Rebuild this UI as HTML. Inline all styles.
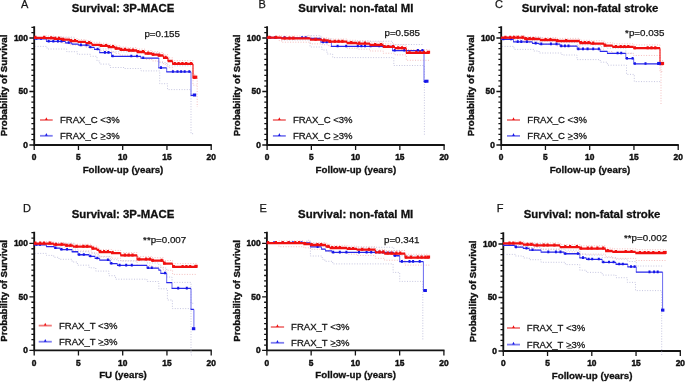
<!DOCTYPE html>
<html><head><meta charset="utf-8"><style>
html,body{margin:0;padding:0;background:#fff;}
svg{display:block;font-family:"Liberation Sans", sans-serif;will-change:transform;}
</style></head><body>
<svg width="685" height="382" viewBox="0 0 685 382">
<rect width="685" height="382" fill="#fff"/>
<path d="M29.4 145H34.2M31.4 139.65H34.2M31.4 134.3H34.2M31.4 128.95H34.2M31.4 123.6H34.2M31.4 118.25H34.2M31.4 112.9H34.2M31.4 107.55H34.2M31.4 102.2H34.2M31.4 96.85H34.2M29.4 91.5H34.2M31.4 86.15H34.2M31.4 80.8H34.2M31.4 75.45H34.2M31.4 70.1H34.2M31.4 64.75H34.2M31.4 59.4H34.2M31.4 54.05H34.2M31.4 48.7H34.2M31.4 43.35H34.2M29.4 38H34.2M31.4 32.65H34.2M31.4 27.3H34.2" stroke="#141414" stroke-width="1.3" fill="none"/>
<path d="M34.2 145V150M78.45 145V150M122.7 145V150M166.95 145V150M211.2 145V150" stroke="#141414" stroke-width="1.3" fill="none"/>
<path d="M34.2 26.3V145.9M33.4 145H211.8" stroke="#141414" stroke-width="1.85" fill="none"/>
<text x="27.9" y="147.95" font-size="8.4" font-weight="bold" text-anchor="end" fill="#111" stroke="#111" stroke-width="0.45" >0</text>
<text x="27.9" y="94.45" font-size="8.4" font-weight="bold" text-anchor="end" fill="#111" stroke="#111" stroke-width="0.45" >50</text>
<text x="27.9" y="40.95" font-size="8.4" font-weight="bold" text-anchor="end" fill="#111" stroke="#111" stroke-width="0.45" >100</text>
<text x="34.2" y="160.1" font-size="8.4" font-weight="bold" text-anchor="middle" fill="#111" stroke="#111" stroke-width="0.45" >0</text>
<text x="78.45" y="160.1" font-size="8.4" font-weight="bold" text-anchor="middle" fill="#111" stroke="#111" stroke-width="0.45" >5</text>
<text x="122.7" y="160.1" font-size="8.4" font-weight="bold" text-anchor="middle" fill="#111" stroke="#111" stroke-width="0.45" >10</text>
<text x="166.95" y="160.1" font-size="8.4" font-weight="bold" text-anchor="middle" fill="#111" stroke="#111" stroke-width="0.45" >15</text>
<text x="211.2" y="160.1" font-size="8.4" font-weight="bold" text-anchor="middle" fill="#111" stroke="#111" stroke-width="0.45" >20</text>
<path d="M35 46.4V46.4H47V49H66.8V51.7H77.4V54.3H90.5V56.3H97V60.9H99.7V64.1H110V67.5H124V68.5H141V70.9H159.7V83.7H167.5V89.6H191V133.7H194" stroke="#c0c0dc" stroke-width="0.9" stroke-dasharray="1 1.6" fill="none"/>
<path d="M46.2 40.3V40.65H46V41.29H54V42.13H62V43.27H70V44.91H78V45.95H86V47.33H92V49.27H100V50.61H108V52.02H115V53.57H120V55.11H128V56.08H137V57.82H145V59.53H152V60.91H158V61.88H163.4V64.31H168V67.65H172.6V71.16H193V85.2H196.5" stroke="#f2b8b8" stroke-width="0.9" stroke-dasharray="1 1.6" fill="none"/>
<path d="M46.2 35.8V35.71H46V36.04H54V36.58H62V37.41H70V38.75H78V39.49H86V40.64H92V42.27H100V43.31H108V44.45H115V45.81H120V47.05H128V47.68H137V49.11H145V50.56H152V51.71H158V52.47H163.4V54.73H168V57.89H172.6V60.63H193V74.4H196.5" stroke="#f2b8b8" stroke-width="0.9" stroke-dasharray="1 1.6" fill="none"/>
<path d="M74.2 37.5V37.13H46.5V39.16H65.5V40.37H72V41.46H78.7V42.15H89.2V44.19H94.4V46.03H99.7V48.98H111.5V51.8H141V52.96H158.8V62.62H166.7V65.8H191" stroke="#c0c0dc" stroke-width="0.9" stroke-dasharray="1 1.6" fill="none"/>
<path d="M197.2 78V107" stroke="#f2b8b8" stroke-width="0.9" stroke-dasharray="1 1.6"/>
<path d="M46.5 38.85V41.45M65.5 41.45V42.85M72 42.85V44.15M78.7 44.15V45.15M89.2 45.15V47.35M94.4 47.35V49.35M99.7 49.35V52.65M111.5 52.65V56.35M141 56.35V58.05M158.8 58.05V67.95M166.7 67.95V71.85M191 71.85V95.45" stroke="#6a6af0" stroke-width="1.0" fill="none"/>
<path d="M33.8 38.85H46.5M46.1 41.45H65.5M65.1 42.85H72M71.6 44.15H78.7M78.3 45.15H89.2M88.8 47.35H94.4M94 49.35H99.7M99.3 52.65H111.5M111.1 56.35H141M140.6 58.05H158.8M158.4 67.95H166.7M166.3 71.85H191M190.6 95.45H195.4" stroke="#2828ea" stroke-width="1.3" fill="none"/>
<path d="M36.4 39.85V37.25M41 39.85V37.25M48.7 42.45V39.85M53.3 42.45V39.85M57.9 42.45V39.85M61.5 42.45V39.85M68.7 43.85V41.25M80.9 46.15V43.55M86.5 46.15V43.55M90.4 48.35V45.75M97.6 50.35V47.75M104.9 53.65V51.05M108.5 53.65V51.05M112.7 57.35V54.75M131.3 57.35V54.75M136.9 57.35V54.75M143.2 59.05V56.45M161 68.95V66.35M172.9 72.85V70.25M177.5 72.85V70.25M181.1 72.85V70.25M184.7 72.85V70.25M189.3 72.85V70.25" stroke="#1515e8" stroke-width="2.0" fill="none"/>
<path d="M46 37.8V38.2M54 38.2V38.8M62 38.8V39.7M70 39.7V41.1M78 41.1V41.9M86 41.9V43.1M92 43.1V44.8M100 44.8V45.9M108 45.9V47.1M115 47.1V48.5M120 48.5V49.8M128 49.8V50.5M137 50.5V52M145 52V53.5M152 53.5V54.7M158 54.7V55.5M163.4 55.5V57.8M168 57.8V61M172.6 61V63.9M193 63.9V77.7" stroke="#f01010" stroke-width="1.1" fill="none"/>
<path d="M33.8 37.8H46M45.6 38.2H54M53.6 38.8H62M61.6 39.7H70M69.6 41.1H78M77.6 41.9H86M85.6 43.1H92M91.6 44.8H100M99.6 45.9H108M107.6 47.1H115M114.6 48.5H120M119.6 49.8H128M127.6 50.5H137M136.6 52H145M144.6 53.5H152M151.6 54.7H158M157.6 55.5H163.4M163 57.8H168M167.6 61H172.6M172.2 63.9H193M192.6 77.7H196.5" stroke="#f01010" stroke-width="2.3" fill="none"/>
<path d="M35.4 38.8V35.8M44.2 38.8V35.8M51.2 39.2V36.2M55.2 39.8V36.8M59 39.8V36.8M63.2 40.7V37.7M71.2 42.1V39.1M75 42.1V39.1M89.2 44.1V41.1M101.2 46.9V43.9M106 46.9V43.9M109.2 48.1V45.1M113 48.1V45.1M116.2 49.5V46.5M121.2 50.8V47.8M125 50.8V47.8M129.2 51.5V48.5M133 51.5V48.5M138.2 53V50M143 53V50M148.2 54.5V51.5M153.2 55.7V52.7M159.2 56.5V53.5M165.6 58.8V55.8M174.8 64.9V61.9M178.6 64.9V61.9M182.4 64.9V61.9M186.2 64.9V61.9M191 64.9V61.9M194.2 78.7V75.7" stroke="#f01010" stroke-width="2.2" fill="none"/>
<rect x="193.9" y="75.6" width="3.4" height="3" fill="#f01010"/>
<rect x="192.8" y="93.5" width="3.4" height="3" fill="#1515e8"/>
<path d="M40 120H52.7" stroke="#f07a7a" stroke-width="1.8"/>
<path d="M45.05 120L46.35 117.2L47.65 120Z" fill="#f01010"/>
<path d="M40 135.8H52.7" stroke="#8080f0" stroke-width="1.8"/>
<path d="M45.05 135.8L46.35 133L47.65 135.8Z" fill="#1515e8"/>
<text x="60" y="123" font-size="9.55" font-weight="normal" text-anchor="start" fill="#151515" stroke="#151515" stroke-width="0.28" >FRAX_C &lt;3%</text>
<text x="60" y="138.8" font-size="9.55" font-weight="normal" text-anchor="start" fill="#151515" stroke="#151515" stroke-width="0.28" >FRAX_C &gt;3%</text>
<path d="M100.61 139.5h4.98" stroke="#555" stroke-width="0.9"/>
<text x="144.4" y="37" font-size="9.75" font-weight="normal" text-anchor="start" fill="#151515" stroke="#151515" stroke-width="0.25" >p=0.155</text>
<text x="123" y="12.3" font-size="11.4" font-weight="bold" text-anchor="middle" fill="#111" stroke="#111" stroke-width="0.3" >Survival: 3P-MACE</text>
<text x="123" y="173" font-size="9.75" font-weight="bold" text-anchor="middle" fill="#111" stroke="#111" stroke-width="0.3" >Follow-up (years)</text>
<text x="7.2" y="85.5" font-size="9.63" font-weight="bold" text-anchor="middle" fill="#111" stroke="#111" stroke-width="0.4" transform="rotate(-90 7.2 85.5)">Probability of Survival</text>
<text x="21" y="7.9" font-size="11" font-weight="normal" text-anchor="start" fill="#151515" stroke="#151515" stroke-width="0.25" >A</text>
<path d="M262.3 145H267.1M264.3 139.65H267.1M264.3 134.3H267.1M264.3 128.95H267.1M264.3 123.6H267.1M264.3 118.25H267.1M264.3 112.9H267.1M264.3 107.55H267.1M264.3 102.2H267.1M264.3 96.85H267.1M262.3 91.5H267.1M264.3 86.15H267.1M264.3 80.8H267.1M264.3 75.45H267.1M264.3 70.1H267.1M264.3 64.75H267.1M264.3 59.4H267.1M264.3 54.05H267.1M264.3 48.7H267.1M264.3 43.35H267.1M262.3 38H267.1M264.3 32.65H267.1M264.3 27.3H267.1" stroke="#141414" stroke-width="1.3" fill="none"/>
<path d="M267.1 145V150M311.35 145V150M355.6 145V150M399.85 145V150M444.1 145V150" stroke="#141414" stroke-width="1.3" fill="none"/>
<path d="M267.1 26.3V145.9M266.3 145H444.7" stroke="#141414" stroke-width="1.85" fill="none"/>
<text x="260.8" y="147.95" font-size="8.4" font-weight="bold" text-anchor="end" fill="#111" stroke="#111" stroke-width="0.45" >0</text>
<text x="260.8" y="94.45" font-size="8.4" font-weight="bold" text-anchor="end" fill="#111" stroke="#111" stroke-width="0.45" >50</text>
<text x="260.8" y="40.95" font-size="8.4" font-weight="bold" text-anchor="end" fill="#111" stroke="#111" stroke-width="0.45" >100</text>
<text x="267.1" y="160.1" font-size="8.4" font-weight="bold" text-anchor="middle" fill="#111" stroke="#111" stroke-width="0.45" >0</text>
<text x="311.35" y="160.1" font-size="8.4" font-weight="bold" text-anchor="middle" fill="#111" stroke="#111" stroke-width="0.45" >5</text>
<text x="355.6" y="160.1" font-size="8.4" font-weight="bold" text-anchor="middle" fill="#111" stroke="#111" stroke-width="0.45" >10</text>
<text x="399.85" y="160.1" font-size="8.4" font-weight="bold" text-anchor="middle" fill="#111" stroke="#111" stroke-width="0.45" >15</text>
<text x="444.1" y="160.1" font-size="8.4" font-weight="bold" text-anchor="middle" fill="#111" stroke="#111" stroke-width="0.45" >20</text>
<path d="M281.5 40V40H310V47H322V50H327V54H332.7V57.6H393.8V65.5H424.4V134.7H426" stroke="#c0c0dc" stroke-width="0.9" stroke-dasharray="1 1.6" fill="none"/>
<path d="M279.1 40.2V40.63H281.5V42.2H310.4V43.85H322V44.75H328.8V46.6H347V48.2H357V49.19H370V50.99H383.3V53.24H395V54.88H406.3V60.3H429.3" stroke="#f2b8b8" stroke-width="0.9" stroke-dasharray="1 1.6" fill="none"/>
<path d="M279.1 35.7V35.58H281.5V36.05H310.4V37.26H322V37.91H328.8V39.06H347V40.28H357V40.78H370V42.07H383.3V43.88H395V45.09H406.3V49.5H429.3" stroke="#f2b8b8" stroke-width="0.9" stroke-dasharray="1 1.6" fill="none"/>
<path d="M307.1 36.5V35.24H309V35.49H320.9V38.87H331.4V41.24H392.5V44.49H424" stroke="#c0c0dc" stroke-width="0.9" stroke-dasharray="1 1.6" fill="none"/>
<path d="M309 37.85V38.45M320.9 38.45V42.15M331.4 42.15V46.35M392.5 46.35V50.55M424 50.55V81.65" stroke="#6a6af0" stroke-width="1.0" fill="none"/>
<path d="M266.7 37.85H309M308.6 38.45H320.9M320.5 42.15H331.4M331 46.35H392.5M392.1 50.55H424M423.6 81.65H427.7" stroke="#2828ea" stroke-width="1.3" fill="none"/>
<path d="M270.3 38.85V36.25M274.9 38.85V36.25M284.5 38.85V36.25M302.1 38.85V36.25M305.7 38.85V36.25M323.1 43.15V40.55M326.7 43.15V40.55M337.6 47.35V44.75M346.2 47.35V44.75M357.8 47.35V44.75M361.4 47.35V44.75M365 47.35V44.75M370.6 47.35V44.75M379.2 47.35V44.75M382.8 47.35V44.75M394.7 51.55V48.95M404.3 51.55V48.95M417.9 51.55V48.95M422.5 51.55V48.95M425.2 82.65V80.05" stroke="#1515e8" stroke-width="2.0" fill="none"/>
<path d="M281.5 37.7V38.4M310.4 38.4V39.7M322 39.7V40.4M328.8 40.4V41.7M347 41.7V43M357 43V43.6M370 43.6V45M383.3 45V46.9M395 46.9V48.2M406.3 48.2V52.8" stroke="#f01010" stroke-width="1.1" fill="none"/>
<path d="M266.7 37.7H281.5M281.1 38.4H310.4M310 39.7H322M321.6 40.4H328.8M328.4 41.7H347M346.6 43H357M356.6 43.6H370M369.6 45H383.3M382.9 46.9H395M394.6 48.2H406.3M405.9 52.8H429.3" stroke="#f01010" stroke-width="2.3" fill="none"/>
<path d="M269.3 38.7V35.7M276.1 38.7V35.7M284.7 39.4V36.4M289.5 39.4V36.4M293.3 39.4V36.4M315.6 40.7V37.7M324.2 41.4V38.4M330 42.7V39.7M334.8 42.7V39.7M338.6 42.7V39.7M342.4 42.7V39.7M351.2 44V41M359.2 44.6V41.6M365 44.6V41.6M375.2 46V43M381 46V43M384.5 47.9V44.9M388.3 47.9V44.9M393.1 47.9V44.9M398.2 49.2V46.2M402 49.2V46.2M409.5 53.8V50.8M416.3 53.8V50.8M420.1 53.8V50.8M423.9 53.8V50.8" stroke="#f01010" stroke-width="2.2" fill="none"/>
<rect x="426.7" y="50.7" width="3.4" height="3" fill="#f01010"/>
<rect x="425.1" y="79.7" width="3.4" height="3" fill="#1515e8"/>
<path d="M272.9 120H285.8" stroke="#f07a7a" stroke-width="1.8"/>
<path d="M278.05 120L279.35 117.2L280.65 120Z" fill="#f01010"/>
<path d="M272.9 135.9H285.8" stroke="#8080f0" stroke-width="1.8"/>
<path d="M278.05 135.9L279.35 133.1L280.65 135.9Z" fill="#1515e8"/>
<text x="292.9" y="123" font-size="9.55" font-weight="normal" text-anchor="start" fill="#151515" stroke="#151515" stroke-width="0.28" >FRAX_C &lt;3%</text>
<text x="292.9" y="138.9" font-size="9.55" font-weight="normal" text-anchor="start" fill="#151515" stroke="#151515" stroke-width="0.28" >FRAX_C &gt;3%</text>
<path d="M333.51 139.6h4.98" stroke="#555" stroke-width="0.9"/>
<text x="384.5" y="36.4" font-size="9.75" font-weight="normal" text-anchor="start" fill="#151515" stroke="#151515" stroke-width="0.25" >p=0.585</text>
<text x="355.9" y="12.3" font-size="11.4" font-weight="bold" text-anchor="middle" fill="#111" stroke="#111" stroke-width="0.3" >Survival: non-fatal MI</text>
<text x="355.9" y="173" font-size="9.75" font-weight="bold" text-anchor="middle" fill="#111" stroke="#111" stroke-width="0.3" >Follow-up (years)</text>
<text x="240.1" y="85.5" font-size="9.63" font-weight="bold" text-anchor="middle" fill="#111" stroke="#111" stroke-width="0.4" transform="rotate(-90 240.1 85.5)">Probability of Survival</text>
<text x="258.5" y="7.9" font-size="11" font-weight="normal" text-anchor="start" fill="#151515" stroke="#151515" stroke-width="0.25" >B</text>
<path d="M496.4 145H501.2M498.4 139.65H501.2M498.4 134.3H501.2M498.4 128.95H501.2M498.4 123.6H501.2M498.4 118.25H501.2M498.4 112.9H501.2M498.4 107.55H501.2M498.4 102.2H501.2M498.4 96.85H501.2M496.4 91.5H501.2M498.4 86.15H501.2M498.4 80.8H501.2M498.4 75.45H501.2M498.4 70.1H501.2M498.4 64.75H501.2M498.4 59.4H501.2M498.4 54.05H501.2M498.4 48.7H501.2M498.4 43.35H501.2M496.4 38H501.2M498.4 32.65H501.2M498.4 27.3H501.2" stroke="#141414" stroke-width="1.3" fill="none"/>
<path d="M501.2 145V150M545.45 145V150M589.7 145V150M633.95 145V150M678.2 145V150" stroke="#141414" stroke-width="1.3" fill="none"/>
<path d="M501.2 26.3V145.9M500.4 145H678.8" stroke="#141414" stroke-width="1.85" fill="none"/>
<text x="494.9" y="147.95" font-size="8.4" font-weight="bold" text-anchor="end" fill="#111" stroke="#111" stroke-width="0.45" >0</text>
<text x="494.9" y="94.45" font-size="8.4" font-weight="bold" text-anchor="end" fill="#111" stroke="#111" stroke-width="0.45" >50</text>
<text x="494.9" y="40.95" font-size="8.4" font-weight="bold" text-anchor="end" fill="#111" stroke="#111" stroke-width="0.45" >100</text>
<text x="501.2" y="160.1" font-size="8.4" font-weight="bold" text-anchor="middle" fill="#111" stroke="#111" stroke-width="0.45" >0</text>
<text x="545.45" y="160.1" font-size="8.4" font-weight="bold" text-anchor="middle" fill="#111" stroke="#111" stroke-width="0.45" >5</text>
<text x="589.7" y="160.1" font-size="8.4" font-weight="bold" text-anchor="middle" fill="#111" stroke="#111" stroke-width="0.45" >10</text>
<text x="633.95" y="160.1" font-size="8.4" font-weight="bold" text-anchor="middle" fill="#111" stroke="#111" stroke-width="0.45" >15</text>
<text x="678.2" y="160.1" font-size="8.4" font-weight="bold" text-anchor="middle" fill="#111" stroke="#111" stroke-width="0.45" >20</text>
<path d="M502 46.4V46.4H514V49.4H533.8V51H539V53H562V55H577V59.6H600.2V62.2H607.4V65.2H626.5V74.4H634.3V81.6H661" stroke="#c0c0dc" stroke-width="0.9" stroke-dasharray="1 1.6" fill="none"/>
<path d="M513.2 40.2V40.9H524.6V42.68H540.4V44.15H556.2V45.86H579.8V48.19H591V49.18H604V51.45H612.7V53.38H633.7V55.46H660V71.5H663.3" stroke="#f2b8b8" stroke-width="0.9" stroke-dasharray="1 1.6" fill="none"/>
<path d="M513.2 35.7V35.51H524.6V36.69H540.4V37.56H556.2V38.37H579.8V40.28H591V40.78H604V42.71H612.7V43.84H633.7V44.93H660V60.7H663.3" stroke="#f2b8b8" stroke-width="0.9" stroke-dasharray="1 1.6" fill="none"/>
<path d="M541.2 37.9V37.53H513.5V39.66H532.5V40.96H539.1V41.03H560.1V42.52H577.2V44.83H600.2V46.81H607.4V48.26H625.8V53.23H633.7" stroke="#c0c0dc" stroke-width="0.9" stroke-dasharray="1 1.6" fill="none"/>
<path d="M661 64V105.5" stroke="#f2b8b8" stroke-width="0.9" stroke-dasharray="1 1.6"/>
<path d="M513.5 39.25V41.95M532.5 41.95V43.45M539.1 43.45V44.15M560.1 44.15V46.15M577.2 46.15V49.15M600.2 49.15V51.35M607.4 51.35V53.35M625.8 53.35V58.55M633.7 58.55V63.85" stroke="#6a6af0" stroke-width="1.0" fill="none"/>
<path d="M500.8 39.25H513.5M513.1 41.95H532.5M532.1 43.45H539.1M538.7 44.15H560.1M559.7 46.15H577.2M576.8 49.15H600.2M599.8 51.35H607.4M607 53.35H625.8M625.4 58.55H633.7M633.3 63.85H660" stroke="#2828ea" stroke-width="1.3" fill="none"/>
<path d="M503.4 40.25V37.65M511 40.25V37.65M517.7 42.95V40.35M521.3 42.95V40.35M526.9 42.95V40.35M535.7 44.45V41.85M541.3 45.15V42.55M550.9 45.15V42.55M556.5 45.15V42.55M561.3 47.15V44.55M564.9 47.15V44.55M568.5 47.15V44.55M578.4 50.15V47.55M583 50.15V47.55M587.6 50.15V47.55M593.2 50.15V47.55M598.8 50.15V47.55M617.6 54.35V51.75M621.2 54.35V51.75M627 59.55V56.95M632.6 59.55V56.95M634.9 64.85V62.25M645.5 64.85V62.25M658.1 64.85V62.25" stroke="#1515e8" stroke-width="2.0" fill="none"/>
<path d="M524.6 37.7V39M540.4 39V40M556.2 40V41M579.8 41V43M591 43V43.6M604 43.6V45.6M612.7 45.6V46.9M633.7 46.9V48.2M660 48.2V64" stroke="#f01010" stroke-width="1.1" fill="none"/>
<path d="M500.8 37.7H524.6M524.2 39H540.4M540 40H556.2M555.8 41H579.8M579.4 43H591M590.6 43.6H604M603.6 45.6H612.7M612.3 46.9H633.7M633.3 48.2H660M659.6 64H663.3" stroke="#f01010" stroke-width="2.3" fill="none"/>
<path d="M505.4 38.7V35.7M510.2 38.7V35.7M514 38.7V35.7M517.8 38.7V35.7M522.6 38.7V35.7M525.8 40V37M529.6 40V37M533.4 40V37M545.6 41V38M550.4 41V38M557.4 42V39M566.2 42V39M581 44V41M584.8 44V41M588.6 44V41M593.2 44.6V41.6M605.2 46.6V43.6M615.9 47.9V44.9M620.7 47.9V44.9M624.5 47.9V44.9M628.3 47.9V44.9M634.9 49.2V46.2M647.7 49.2V46.2M651.5 49.2V46.2M655.3 49.2V46.2M662.2 65V62" stroke="#f01010" stroke-width="2.2" fill="none"/>
<rect x="660.7" y="61.9" width="3.4" height="3" fill="#f01010"/>
<rect x="657.4" y="61.9" width="3.4" height="3" fill="#1515e8"/>
<path d="M507 120H520" stroke="#f07a7a" stroke-width="1.8"/>
<path d="M512.2 120L513.5 117.2L514.8 120Z" fill="#f01010"/>
<path d="M507 135.9H520" stroke="#8080f0" stroke-width="1.8"/>
<path d="M512.2 135.9L513.5 133.1L514.8 135.9Z" fill="#1515e8"/>
<text x="527.3" y="123" font-size="9.55" font-weight="normal" text-anchor="start" fill="#151515" stroke="#151515" stroke-width="0.28" >FRAX_C &lt;3%</text>
<text x="527.3" y="138.9" font-size="9.55" font-weight="normal" text-anchor="start" fill="#151515" stroke="#151515" stroke-width="0.28" >FRAX_C &gt;3%</text>
<path d="M567.91 139.6h4.98" stroke="#555" stroke-width="0.9"/>
<text x="625.1" y="36.4" font-size="9.75" font-weight="normal" text-anchor="start" fill="#151515" stroke="#151515" stroke-width="0.25" >*p=0.035</text>
<text x="590" y="12.3" font-size="11.4" font-weight="bold" text-anchor="middle" fill="#111" stroke="#111" stroke-width="0.3" >Survival: non-fatal stroke</text>
<text x="590" y="173" font-size="9.75" font-weight="bold" text-anchor="middle" fill="#111" stroke="#111" stroke-width="0.3" >Follow-up (years)</text>
<text x="474.2" y="85.5" font-size="9.63" font-weight="bold" text-anchor="middle" fill="#111" stroke="#111" stroke-width="0.4" transform="rotate(-90 474.2 85.5)">Probability of Survival</text>
<text x="495" y="7.9" font-size="11" font-weight="normal" text-anchor="start" fill="#151515" stroke="#151515" stroke-width="0.25" >C</text>
<path d="M29.4 350.4H34.2M31.4 345.05H34.2M31.4 339.7H34.2M31.4 334.35H34.2M31.4 329H34.2M31.4 323.65H34.2M31.4 318.3H34.2M31.4 312.95H34.2M31.4 307.6H34.2M31.4 302.25H34.2M29.4 296.9H34.2M31.4 291.55H34.2M31.4 286.2H34.2M31.4 280.85H34.2M31.4 275.5H34.2M31.4 270.15H34.2M31.4 264.8H34.2M31.4 259.45H34.2M31.4 254.1H34.2M31.4 248.75H34.2M29.4 243.4H34.2M31.4 238.05H34.2M31.4 232.7H34.2" stroke="#141414" stroke-width="1.3" fill="none"/>
<path d="M34.2 350.4V355.4M78.45 350.4V355.4M122.7 350.4V355.4M166.95 350.4V355.4M211.2 350.4V355.4" stroke="#141414" stroke-width="1.3" fill="none"/>
<path d="M34.2 231.7V351.3M33.4 350.4H211.8" stroke="#141414" stroke-width="1.85" fill="none"/>
<text x="27.9" y="353.35" font-size="8.4" font-weight="bold" text-anchor="end" fill="#111" stroke="#111" stroke-width="0.45" >0</text>
<text x="27.9" y="299.85" font-size="8.4" font-weight="bold" text-anchor="end" fill="#111" stroke="#111" stroke-width="0.45" >50</text>
<text x="27.9" y="246.35" font-size="8.4" font-weight="bold" text-anchor="end" fill="#111" stroke="#111" stroke-width="0.45" >100</text>
<text x="34.2" y="365.5" font-size="8.4" font-weight="bold" text-anchor="middle" fill="#111" stroke="#111" stroke-width="0.45" >0</text>
<text x="78.45" y="365.5" font-size="8.4" font-weight="bold" text-anchor="middle" fill="#111" stroke="#111" stroke-width="0.45" >5</text>
<text x="122.7" y="365.5" font-size="8.4" font-weight="bold" text-anchor="middle" fill="#111" stroke="#111" stroke-width="0.45" >10</text>
<text x="166.95" y="365.5" font-size="8.4" font-weight="bold" text-anchor="middle" fill="#111" stroke="#111" stroke-width="0.45" >15</text>
<text x="211.2" y="365.5" font-size="8.4" font-weight="bold" text-anchor="middle" fill="#111" stroke="#111" stroke-width="0.45" >20</text>
<path d="M35 253.4V253.4H46.5V255.4H53.7V257.3H59V259.3H72.1V262H77.4V265.2H89.2V267.8H95.8V271.1H108.9V275.7H115.5V279.2H147V281.5H158.8V288.8H167.4V300H172.4V308.6H191V355H192" stroke="#c0c0dc" stroke-width="0.9" stroke-dasharray="1 1.6" fill="none"/>
<path d="M46.2 246.1V246.69H53.7V248.14H65.5V249.38H73.4V250.93H91.8V252.98H97V254.25H99.1V256.92H111.4V258.19H120.7V260.99H137.1V265.42H151.6V267.08H163.4V270.25H172.6V274.4H196.9" stroke="#f2b8b8" stroke-width="0.9" stroke-dasharray="1 1.6" fill="none"/>
<path d="M46.2 241.6V241.44H53.7V242.45H65.5V243.39H73.4V244.24H91.8V246.1H97V247.28H99.1V249.48H111.4V250.41H120.7V252.58H137.1V256.46H151.6V257.67H163.4V260.49H172.6V263.6H196.9" stroke="#f2b8b8" stroke-width="0.9" stroke-dasharray="1 1.6" fill="none"/>
<path d="M74.2 243.5V243.13H46.5V244.59H54.4V245.92H60.3V247.06H72.1V249.09H78V251.75H89.2V253.17H95.1V255.03H99.7V256.42H110.2V259.7H117.4V260.72H147V262.96H158.8V264.9H160.8V268.02H166.7V277.07H172V282.4H191V303.31H193.9" stroke="#c0c0dc" stroke-width="0.9" stroke-dasharray="1 1.6" fill="none"/>
<path d="M46.5 244.85V246.55M54.4 246.55V248.05M60.3 248.05V249.55M72.1 249.55V251.75M78 251.75V254.75M89.2 254.75V256.35M95.1 256.35V258.35M99.7 258.35V260.05M110.2 260.05V263.55M117.4 263.55V265.45M147 265.45V268.05M158.8 268.05V270.05M160.8 270.05V273.35M166.7 273.35V282.55M172 282.55V288.45M191 288.45V309.45M193.9 309.45V329.15" stroke="#6a6af0" stroke-width="1.0" fill="none"/>
<path d="M33.8 244.85H46.5M46.1 246.55H54.4M54 248.05H60.3M59.9 249.55H72.1M71.7 251.75H78M77.6 254.75H89.2M88.8 256.35H95.1M94.7 258.35H99.7M99.3 260.05H110.2M109.8 263.55H117.4M117 265.45H147M146.6 268.05H158.8M158.4 270.05H160.8M160.4 273.35H166.7M166.3 282.55H172M171.6 288.45H191M190.6 309.45H193.9M193.5 329.15H194.5" stroke="#2828ea" stroke-width="1.3" fill="none"/>
<path d="M36.4 245.85V243.25M40 245.85V243.25M55.6 249.05V246.45M61.5 250.55V247.95M67.1 250.55V247.95M79.2 255.75V253.15M83.8 255.75V253.15M90.4 257.35V254.75M97.3 259.35V256.75M107.9 261.05V258.45M111.4 264.55V261.95M119.6 266.45V263.85M126.2 266.45V263.85M131.8 266.45V263.85M148.2 269.05V266.45M151.8 269.05V266.45M165 274.35V271.75M178.2 289.45V286.85M186.8 289.45V286.85" stroke="#1515e8" stroke-width="2.0" fill="none"/>
<path d="M53.7 243.6V244.7M65.5 244.7V245.7M73.4 245.7V246.7M91.8 246.7V248.6M97 248.6V249.8M99.1 249.8V252.1M111.4 252.1V253.1M120.7 253.1V255.4M137.1 255.4V259.4M151.6 259.4V260.7M163.4 260.7V263.6M172.6 263.6V266.9" stroke="#f01010" stroke-width="1.1" fill="none"/>
<path d="M33.8 243.6H53.7M53.3 244.7H65.5M65.1 245.7H73.4M73 246.7H91.8M91.4 248.6H97M96.6 249.8H99.1M98.7 252.1H111.4M111 253.1H120.7M120.3 255.4H137.1M136.7 259.4H151.6M151.2 260.7H163.4M163 263.6H172.6M172.2 266.9H196.9" stroke="#f01010" stroke-width="2.3" fill="none"/>
<path d="M35.4 244.6V241.6M40.2 244.6V241.6M44 244.6V241.6M49.8 244.6V241.6M55.9 245.7V242.7M61.7 245.7V242.7M66.7 246.7V243.7M70.5 246.7V243.7M76.6 247.7V244.7M83.4 247.7V244.7M87.2 247.7V244.7M93 249.6V246.6M100.3 253.1V250.1M104.1 253.1V250.1M107.9 253.1V250.1M112.6 254.1V251.1M124.9 256.4V253.4M128.7 256.4V253.4M132.5 256.4V253.4M139.3 260.4V257.4M146.1 260.4V257.4M149.9 260.4V257.4M152.8 261.7V258.7M161.6 261.7V258.7M164.6 264.6V261.6M173.8 267.9V264.9M182.6 267.9V264.9M186.4 267.9V264.9M190.2 267.9V264.9" stroke="#f01010" stroke-width="2.2" fill="none"/>
<rect x="194.3" y="264.8" width="3.4" height="3" fill="#f01010"/>
<rect x="191.9" y="327.2" width="3.4" height="3" fill="#1515e8"/>
<path d="M38.7 325.6H51.8" stroke="#f07a7a" stroke-width="1.8"/>
<path d="M43.95 325.6L45.25 322.8L46.55 325.6Z" fill="#f01010"/>
<path d="M38.7 341.7H51.8" stroke="#8080f0" stroke-width="1.8"/>
<path d="M43.95 341.7L45.25 338.9L46.55 341.7Z" fill="#1515e8"/>
<text x="59" y="328.6" font-size="9.55" font-weight="normal" text-anchor="start" fill="#151515" stroke="#151515" stroke-width="0.28" >FRAX_T &lt;3%</text>
<text x="59" y="344.7" font-size="9.55" font-weight="normal" text-anchor="start" fill="#151515" stroke="#151515" stroke-width="0.28" >FRAX_T &gt;3%</text>
<path d="M99.61 345.4h4.98" stroke="#555" stroke-width="0.9"/>
<text x="143.1" y="242.5" font-size="9.75" font-weight="normal" text-anchor="start" fill="#151515" stroke="#151515" stroke-width="0.25" >**p=0.007</text>
<text x="123" y="217.7" font-size="11.4" font-weight="bold" text-anchor="middle" fill="#111" stroke="#111" stroke-width="0.3" >Survival: 3P-MACE</text>
<text x="123" y="378.4" font-size="9.75" font-weight="bold" text-anchor="middle" fill="#111" stroke="#111" stroke-width="0.3" >FU (years)</text>
<text x="7.2" y="290.9" font-size="9.63" font-weight="bold" text-anchor="middle" fill="#111" stroke="#111" stroke-width="0.4" transform="rotate(-90 7.2 290.9)">Probability of Survival</text>
<text x="23.1" y="211.9" font-size="11" font-weight="normal" text-anchor="start" fill="#151515" stroke="#151515" stroke-width="0.25" >D</text>
<path d="M262.1 350.4H266.9M264.1 345.05H266.9M264.1 339.7H266.9M264.1 334.35H266.9M264.1 329H266.9M264.1 323.65H266.9M264.1 318.3H266.9M264.1 312.95H266.9M264.1 307.6H266.9M264.1 302.25H266.9M262.1 296.9H266.9M264.1 291.55H266.9M264.1 286.2H266.9M264.1 280.85H266.9M264.1 275.5H266.9M264.1 270.15H266.9M264.1 264.8H266.9M264.1 259.45H266.9M264.1 254.1H266.9M264.1 248.75H266.9M262.1 243.4H266.9M264.1 238.05H266.9M264.1 232.7H266.9" stroke="#141414" stroke-width="1.3" fill="none"/>
<path d="M266.9 350.4V355.4M311.15 350.4V355.4M355.4 350.4V355.4M399.65 350.4V355.4M443.9 350.4V355.4" stroke="#141414" stroke-width="1.3" fill="none"/>
<path d="M266.9 231.7V351.3M266.1 350.4H444.5" stroke="#141414" stroke-width="1.85" fill="none"/>
<text x="260.6" y="353.35" font-size="8.4" font-weight="bold" text-anchor="end" fill="#111" stroke="#111" stroke-width="0.45" >0</text>
<text x="260.6" y="299.85" font-size="8.4" font-weight="bold" text-anchor="end" fill="#111" stroke="#111" stroke-width="0.45" >50</text>
<text x="260.6" y="246.35" font-size="8.4" font-weight="bold" text-anchor="end" fill="#111" stroke="#111" stroke-width="0.45" >100</text>
<text x="266.9" y="365.5" font-size="8.4" font-weight="bold" text-anchor="middle" fill="#111" stroke="#111" stroke-width="0.45" >0</text>
<text x="311.15" y="365.5" font-size="8.4" font-weight="bold" text-anchor="middle" fill="#111" stroke="#111" stroke-width="0.45" >5</text>
<text x="355.4" y="365.5" font-size="8.4" font-weight="bold" text-anchor="middle" fill="#111" stroke="#111" stroke-width="0.45" >10</text>
<text x="399.65" y="365.5" font-size="8.4" font-weight="bold" text-anchor="middle" fill="#111" stroke="#111" stroke-width="0.45" >15</text>
<text x="443.9" y="365.5" font-size="8.4" font-weight="bold" text-anchor="middle" fill="#111" stroke="#111" stroke-width="0.45" >20</text>
<path d="M310.4 248V256H322.2V259.3H324.8V261.3H332.7V263.9H393.1V272.4H399.7V281.4H422.8V339.7H424" stroke="#c0c0dc" stroke-width="0.9" stroke-dasharray="1 1.6" fill="none"/>
<path d="M278.9 245.6V246.71H303.8V247.81H310.4V249.28H326.1V251.09H330V252.91H347.1V254.1H357V255.45H375.4V258.33H384.6V260.24H405V265.1H429.3" stroke="#f2b8b8" stroke-width="0.9" stroke-dasharray="1 1.6" fill="none"/>
<path d="M278.9 241.1V240.8H303.8V241.65H310.4V242.53H326.1V244.2H330V245.36H347.1V246.18H357V246.83H375.4V249.36H384.6V250.5H405V254.3H429.3" stroke="#f2b8b8" stroke-width="0.9" stroke-dasharray="1 1.6" fill="none"/>
<path d="M306.9 241.6V240.29H310.4V243.96H321.5V246.04H325.5V247.55H332V247.29H393.8V250.42H399.7V255.61H423.4" stroke="#c0c0dc" stroke-width="0.9" stroke-dasharray="1 1.6" fill="none"/>
<path d="M310.4 242.95V246.95M321.5 246.95V249.15M325.5 249.15V250.85M332 250.85V252.45M393.8 252.45V255.75M399.7 255.75V261.65M423.4 261.65V290.95" stroke="#6a6af0" stroke-width="1.0" fill="none"/>
<path d="M266.5 242.95H310.4M310 246.95H321.5M321.1 249.15H325.5M325.1 250.85H332M331.6 252.45H393.8M393.4 255.75H399.7M399.3 261.65H423.4M423 290.95H426.1" stroke="#2828ea" stroke-width="1.3" fill="none"/>
<path d="M274.1 243.95V241.35M282.7 243.95V241.35M289.3 243.95V241.35M292.9 243.95V241.35M301.5 243.95V241.35M317.6 247.95V245.35M333.2 253.45V250.85M339.8 253.45V250.85M346.4 253.45V250.85M359 253.45V250.85M366.6 253.45V250.85M371.2 253.45V250.85M375.8 253.45V250.85M379.4 253.45V250.85M383 253.45V250.85M395 256.75V254.15M401.9 262.65V260.05M409.5 262.65V260.05M413.1 262.65V260.05M419.7 262.65V260.05" stroke="#1515e8" stroke-width="2.0" fill="none"/>
<path d="M303.8 243.1V244M310.4 244V245M326.1 245V246.7M330 246.7V248M347.1 248V248.9M357 248.9V249.7M375.4 249.7V252.3M384.6 252.3V253.6M405 253.6V257.6" stroke="#f01010" stroke-width="1.1" fill="none"/>
<path d="M266.5 243.1H303.8M303.4 244H310.4M310 245H326.1M325.7 246.7H330M329.6 248H347.1M346.7 248.9H357M356.6 249.7H375.4M375 252.3H384.6M384.2 253.6H405M404.6 257.6H429.3" stroke="#f01010" stroke-width="2.3" fill="none"/>
<path d="M268.1 244.1V241.1M275.9 244.1V241.1M282.7 244.1V241.1M288.5 244.1V241.1M295.3 244.1V241.1M299.1 244.1V241.1M305 245V242M311.6 246V243M317.4 246V243M321.2 246V243M328.3 247.7V244.7M332.2 249V246M336 249V246M339.8 249V246M349.3 249.9V246.9M353.1 249.9V246.9M362.2 250.7V247.7M369 250.7V247.7M379.6 253.3V250.3M383.4 253.3V250.3M387.8 254.6V251.6M391.6 254.6V251.6M396.4 254.6V251.6M400.2 254.6V251.6M406.2 258.6V255.6M411 258.6V255.6M417.8 258.6V255.6M421.6 258.6V255.6M425.4 258.6V255.6" stroke="#f01010" stroke-width="2.2" fill="none"/>
<rect x="426.7" y="255.5" width="3.4" height="3" fill="#f01010"/>
<rect x="423.5" y="289" width="3.4" height="3" fill="#1515e8"/>
<path d="M270.8 327H284.1" stroke="#f07a7a" stroke-width="1.8"/>
<path d="M276.15 327L277.45 324.2L278.75 327Z" fill="#f01010"/>
<path d="M270.8 342.8H284.1" stroke="#8080f0" stroke-width="1.8"/>
<path d="M276.15 342.8L277.45 340L278.75 342.8Z" fill="#1515e8"/>
<text x="291.1" y="330" font-size="9.55" font-weight="normal" text-anchor="start" fill="#151515" stroke="#151515" stroke-width="0.28" >FRAX_T &lt;3%</text>
<text x="291.1" y="345.8" font-size="9.55" font-weight="normal" text-anchor="start" fill="#151515" stroke="#151515" stroke-width="0.28" >FRAX_T &gt;3%</text>
<path d="M331.71 346.5h4.98" stroke="#555" stroke-width="0.9"/>
<text x="384" y="242.5" font-size="9.75" font-weight="normal" text-anchor="start" fill="#151515" stroke="#151515" stroke-width="0.25" >p=0.341</text>
<text x="355.7" y="217.7" font-size="11.4" font-weight="bold" text-anchor="middle" fill="#111" stroke="#111" stroke-width="0.3" >Survival: non-fatal MI</text>
<text x="355.7" y="378.4" font-size="9.75" font-weight="bold" text-anchor="middle" fill="#111" stroke="#111" stroke-width="0.3" >Follow-up (years)</text>
<text x="239.9" y="290.9" font-size="9.63" font-weight="bold" text-anchor="middle" fill="#111" stroke="#111" stroke-width="0.4" transform="rotate(-90 239.9 290.9)">Probability of Survival</text>
<text x="259.6" y="212" font-size="11" font-weight="normal" text-anchor="start" fill="#151515" stroke="#151515" stroke-width="0.25" >E</text>
<path d="M498.5 351H503.3M500.5 345.65H503.3M500.5 340.3H503.3M500.5 334.95H503.3M500.5 329.6H503.3M500.5 324.25H503.3M500.5 318.9H503.3M500.5 313.55H503.3M500.5 308.2H503.3M500.5 302.85H503.3M498.5 297.5H503.3M500.5 292.15H503.3M500.5 286.8H503.3M500.5 281.45H503.3M500.5 276.1H503.3M500.5 270.75H503.3M500.5 265.4H503.3M500.5 260.05H503.3M500.5 254.7H503.3M500.5 249.35H503.3M498.5 244H503.3M500.5 238.65H503.3M500.5 233.3H503.3" stroke="#141414" stroke-width="1.3" fill="none"/>
<path d="M503.3 351V356M547.55 351V356M591.8 351V356M636.05 351V356M680.3 351V356" stroke="#141414" stroke-width="1.3" fill="none"/>
<path d="M503.3 232.3V351.9M502.5 351H680.9" stroke="#141414" stroke-width="1.85" fill="none"/>
<text x="497" y="353.95" font-size="8.4" font-weight="bold" text-anchor="end" fill="#111" stroke="#111" stroke-width="0.45" >0</text>
<text x="497" y="300.45" font-size="8.4" font-weight="bold" text-anchor="end" fill="#111" stroke="#111" stroke-width="0.45" >50</text>
<text x="497" y="246.95" font-size="8.4" font-weight="bold" text-anchor="end" fill="#111" stroke="#111" stroke-width="0.45" >100</text>
<text x="503.3" y="366.1" font-size="8.4" font-weight="bold" text-anchor="middle" fill="#111" stroke="#111" stroke-width="0.45" >0</text>
<text x="547.55" y="366.1" font-size="8.4" font-weight="bold" text-anchor="middle" fill="#111" stroke="#111" stroke-width="0.45" >5</text>
<text x="591.8" y="366.1" font-size="8.4" font-weight="bold" text-anchor="middle" fill="#111" stroke="#111" stroke-width="0.45" >10</text>
<text x="636.05" y="366.1" font-size="8.4" font-weight="bold" text-anchor="middle" fill="#111" stroke="#111" stroke-width="0.45" >15</text>
<text x="680.3" y="366.1" font-size="8.4" font-weight="bold" text-anchor="middle" fill="#111" stroke="#111" stroke-width="0.45" >20</text>
<path d="M504 254.4V254.4H515.5V256H523.3V258H529.3V259.7H541.1V262.3H565.4V264.6H579.8V270.2H586.4V272.4H602.2V275.1H616V277.7H627.3V282.4H635.5V290.6H661.7V355H662.5" stroke="#c0c0dc" stroke-width="0.9" stroke-dasharray="1 1.6" fill="none"/>
<path d="M515.3 245.9V246.5H523.3V248.11H533.8V249.6H560.1V251.89H579.8V254.17H605.5V256.78H612.7V258.37H635.7V260.5H665.9" stroke="#f2b8b8" stroke-width="0.9" stroke-dasharray="1 1.6" fill="none"/>
<path d="M515.3 241.4V241.24H523.3V242.46H533.8V242.95H560.1V244.49H579.8V245.78H605.5V248.12H612.7V248.84H635.7V249.7H665.9" stroke="#f2b8b8" stroke-width="0.9" stroke-dasharray="1 1.6" fill="none"/>
<path d="M543.3 243.9V243.56H514.8V245.2H523.3V246.32H529.3V247.57H541.1V248.98H564.1V250.11H579.8V254.11H586.4V255.03H602.2V257.62H616V259.16H627.8V261.51H636.3V266.02H662.6" stroke="#c0c0dc" stroke-width="0.9" stroke-dasharray="1 1.6" fill="none"/>
<path d="M514.8 245.25V247.15M523.3 247.15V248.45M529.3 248.45V250.05M541.1 250.05V252.15M564.1 252.15V253.75M579.8 253.75V257.95M586.4 257.95V259.35M602.2 259.35V262.35M616 262.35V264.25M627.8 264.25V266.85M636.3 266.85V272.15M662.6 272.15V310.55" stroke="#6a6af0" stroke-width="1.0" fill="none"/>
<path d="M502.9 245.25H514.8M514.4 247.15H523.3M522.9 248.45H529.3M528.9 250.05H541.1M540.7 252.15H564.1M563.7 253.75H579.8M579.4 257.95H586.4M586 259.35H602.2M601.8 262.35H616M615.6 264.25H627.8M627.4 266.85H636.3M635.9 272.15H662.6M662.2 310.55H663.6" stroke="#2828ea" stroke-width="1.3" fill="none"/>
<path d="M516 248.15V245.55M526.5 249.45V246.85M532.5 251.05V248.45M548.3 253.15V250.55M555.9 253.15V250.55M560.5 253.15V250.55M565.3 254.75V252.15M577.9 254.75V252.15M583 258.95V256.35M588.6 260.35V257.75M592.2 260.35V257.75M598.8 260.35V257.75M603.4 263.35V260.75M609 263.35V260.75M613.6 263.35V260.75M619.2 265.25V262.65M622.8 265.25V262.65M631 267.85V265.25M634.6 267.85V265.25M649.5 273.15V270.55M654.1 273.15V270.55M657.7 273.15V270.55" stroke="#1515e8" stroke-width="2.0" fill="none"/>
<path d="M523.3 243.4V244.7M533.8 244.7V245.4M560.1 245.4V247.1M579.8 247.1V248.6M605.5 248.6V251M612.7 251V251.9M635.7 251.9V253" stroke="#f01010" stroke-width="1.1" fill="none"/>
<path d="M502.9 243.4H523.3M522.9 244.7H533.8M533.4 245.4H560.1M559.7 247.1H579.8M579.4 248.6H605.5M605.1 251H612.7M612.3 251.9H635.7M635.3 253H665.9" stroke="#f01010" stroke-width="2.3" fill="none"/>
<path d="M509.5 244.4V241.4M513.3 244.4V241.4M520.1 244.4V241.4M527.5 245.7V242.7M531.3 245.7V242.7M537 246.4V243.4M543.8 246.4V243.4M547.6 246.4V243.4M554.4 246.4V243.4M565.3 248.1V245.1M570.1 248.1V245.1M576.9 248.1V245.1M581 249.6V246.6M587.8 249.6V246.6M591.6 249.6V246.6M597.4 249.6V246.6M603.2 249.6V246.6M607.7 252V249M615.9 252.9V249.9M625.7 252.9V249.9M631.5 252.9V249.9M639.9 254V251M644.7 254V251M648.5 254V251M653.3 254V251M659.1 254V251M663.9 254V251" stroke="#f01010" stroke-width="2.2" fill="none"/>
<rect x="663.3" y="250.9" width="3.4" height="3" fill="#f01010"/>
<rect x="661" y="308.6" width="3.4" height="3" fill="#1515e8"/>
<path d="M507 328H520" stroke="#f07a7a" stroke-width="1.8"/>
<path d="M512.2 328L513.5 325.2L514.8 328Z" fill="#f01010"/>
<path d="M507 344.6H520" stroke="#8080f0" stroke-width="1.8"/>
<path d="M512.2 344.6L513.5 341.8L514.8 344.6Z" fill="#1515e8"/>
<text x="526.8" y="331" font-size="9.55" font-weight="normal" text-anchor="start" fill="#151515" stroke="#151515" stroke-width="0.28" >FRAX_T &lt;3%</text>
<text x="526.8" y="347.6" font-size="9.55" font-weight="normal" text-anchor="start" fill="#151515" stroke="#151515" stroke-width="0.28" >FRAX_T &gt;3%</text>
<path d="M567.41 348.3h4.98" stroke="#555" stroke-width="0.9"/>
<text x="624" y="241.4" font-size="9.75" font-weight="normal" text-anchor="start" fill="#151515" stroke="#151515" stroke-width="0.25" >**p=0.002</text>
<text x="592.1" y="218.3" font-size="11.4" font-weight="bold" text-anchor="middle" fill="#111" stroke="#111" stroke-width="0.3" >Survival: non-fatal stroke</text>
<text x="592.1" y="379" font-size="9.75" font-weight="bold" text-anchor="middle" fill="#111" stroke="#111" stroke-width="0.3" >Follow-up (years)</text>
<text x="476.3" y="291.5" font-size="9.63" font-weight="bold" text-anchor="middle" fill="#111" stroke="#111" stroke-width="0.4" transform="rotate(-90 476.3 291.5)">Probability of Survival</text>
<text x="496.7" y="212" font-size="11" font-weight="normal" text-anchor="start" fill="#151515" stroke="#151515" stroke-width="0.25" >F</text>
</svg></body></html>
